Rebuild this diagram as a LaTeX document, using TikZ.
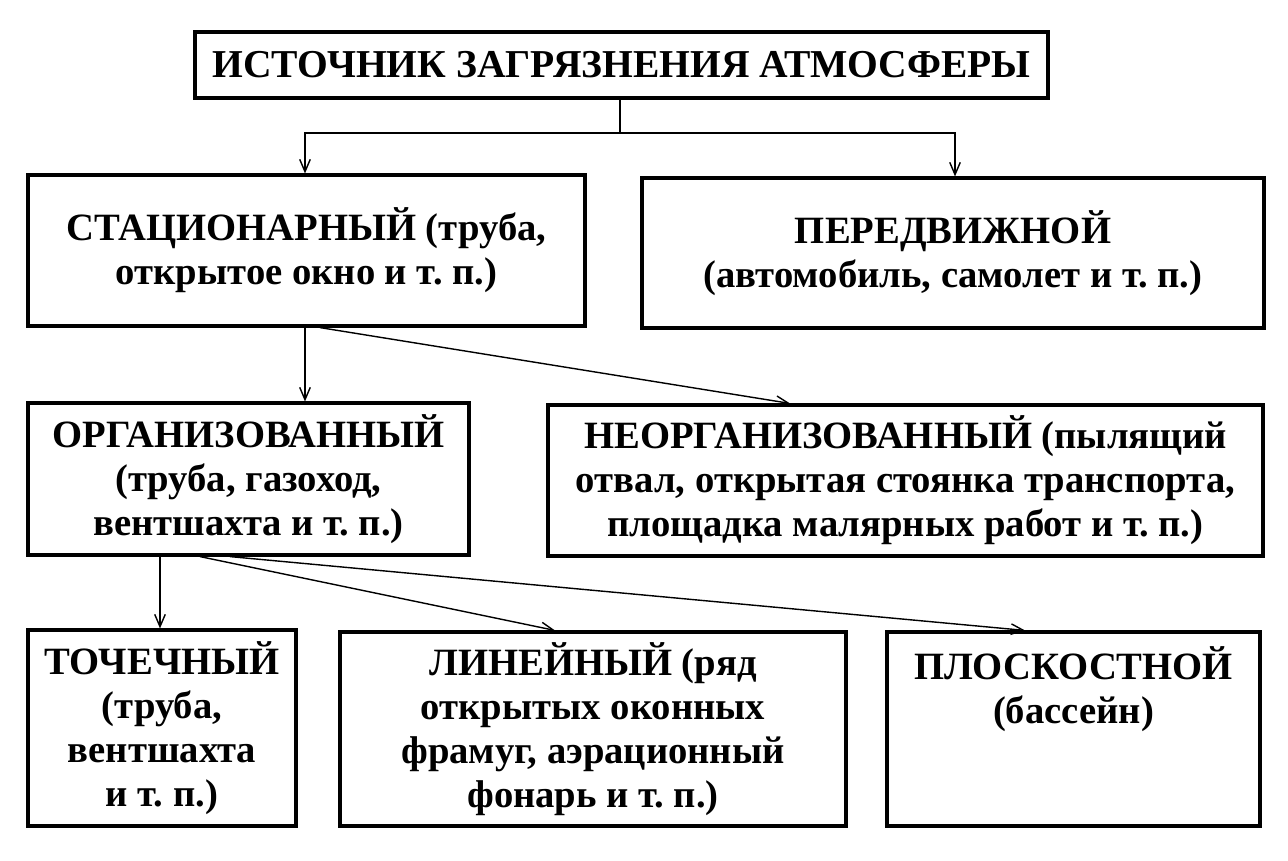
\documentclass[tikz,border=0pt]{standalone}
\usepackage{fontspec}
\setmainfont{Liberation Serif}
\usetikzlibrary{arrows.meta}
\begin{document}
\begin{tikzpicture}[x=0.02cm,y=-0.02cm,
 box/.style={draw,line width=1.8pt,inner sep=0pt,align=center,font=\fontsize{22}{25}\selectfont\bfseries},
 arr/.style={line width=0.8pt,-{Straight Barb[length=7pt,width=6pt]}}]
\useasboundingbox (0,0) rectangle (1288,860);
\newcommand{\bx}[6]{\node[box,minimum width={(#3-#1)*0.02cm},minimum height={(#4-#2)*0.02cm}] (#5) at ({(#1+#3)/2},{(#2+#4)/2}) {#6};}
\bx{195}{32}{1048}{98}{top}{\fontsize{22.5}{26}\selectfont ИСТОЧНИК ЗАГРЯЗНЕНИЯ АТМОСФЕРЫ}
\bx{28}{175}{585}{326}{st}{СТАЦИОНАРНЫЙ (труба,\\открытое окно и т.~п.)}
\bx{642}{178}{1264}{328}{mv}{ПЕРЕДВИЖНОЙ\\(автомобиль, самолет и т.~п.)}
\bx{28}{403}{469}{555}{org}{ОРГАНИЗОВАННЫЙ\\(труба, газоход,\\вентшахта и т.~п.)}
\bx{548}{405}{1263}{556}{unorg}{НЕОРГАНИЗОВАННЫЙ (пылящий\\отвал, открытая стоянка транспорта,\\площадка малярных работ и т.~п.)}
\bx{28}{630}{296}{826}{pt}{ТОЧЕЧНЫЙ\\(труба,\\вентшахта\\и т.~п.)}
\bx{340}{632}{846}{826}{lin}{ЛИНЕЙНЫЙ (ряд\\открытых оконных\\фрамуг, аэрационный\\фонарь и т.~п.)}
\bx{887}{632}{1260}{826}{pl}{}
\node[box,draw=none,anchor=north] at ([yshift=-0.3cm]pl.north) {ПЛОСКОСТНОЙ\\(бассейн)};
\coordinate (j) at (620,133);
\draw[line width=0.8pt] (top.south -| j) -- (j);
\draw[arr] (j) -| (st.north -| 305,0);
\draw[arr] (j) -| (mv.north -| 955,0);
\draw[arr] (st.south -| 305,0) -- (org.north -| 305,0);
\draw[arr] (st.south -| 320,0) -- (unorg.north -| 790,0);
\draw[arr] (org.south -| 160,0) -- (pt.north -| 160,0);
\draw[arr] (org.south -| 200,0) -- (lin.north -| 555,0);
\draw[arr] (org.south -| 230,0) -- (pl.north -| 1025,0);
\end{tikzpicture}
\end{document}
